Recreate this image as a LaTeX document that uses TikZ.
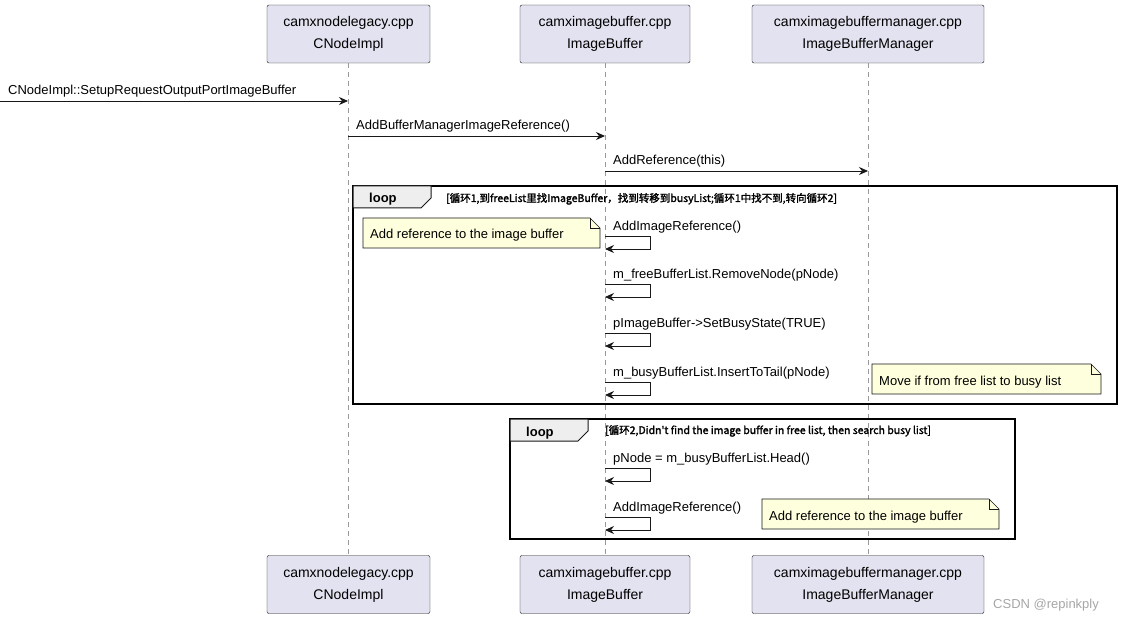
\documentclass[tikz,border=0pt]{standalone}
\usepackage{fontspec}
\setmainfont{Liberation Sans}
\newfontfamily\cjk{Noto Sans CJK SC}[AutoFakeBold=2]
\usetikzlibrary{arrows.meta}
\definecolor{pfill}{HTML}{E2E2F0}
\definecolor{pline}{HTML}{181818}
\definecolor{nfill}{HTML}{FEFFDD}
\definecolor{tabfill}{HTML}{EEEEEE}
\begin{document}
\begin{tikzpicture}[x=1pt,y=-1pt,
  part/.style={draw=pline,fill=pfill,rounded corners=2pt,minimum height=58pt,align=center,font=\fontsize{14}{22}\selectfont,inner sep=0pt},
  life/.style={draw=gray!80,dash pattern=on 5pt off 4pt,line width=0.6pt},
  msg/.style={draw=pline,line width=0.8pt,-{Stealth[length=9pt,width=8pt,inset=3pt]}},
  lbl/.style={anchor=base west,font=\fontsize{13}{15}\selectfont,inner sep=0pt},
  hdr/.style={anchor=base west,font=\cjk\bfseries\fontsize{10.5}{12}\selectfont,inner sep=0pt},
  notetxt/.style={anchor=base west,font=\fontsize{13}{15}\selectfont,inner sep=0pt}]
\useasboundingbox (0,0) rectangle (1123,620);
% participants
\node[part,minimum width=163pt] (a1) at (348.5,34) {camxnodelegacy.cpp\\CNodeImpl};
\node[part,minimum width=170pt] (b1) at (605,34) {camximagebuffer.cpp\\ImageBuffer};
\node[part,minimum width=232pt] (c1) at (868,34) {camximagebuffermanager.cpp\\ImageBufferManager};
\node[part,minimum width=163pt] (a2) at (348.5,584.5) {camxnodelegacy.cpp\\CNodeImpl};
\node[part,minimum width=170pt] (b2) at (605,584.5) {camximagebuffer.cpp\\ImageBuffer};
\node[part,minimum width=232pt] (c2) at (868,584.5) {camximagebuffermanager.cpp\\ImageBufferManager};
\draw[life] (a1.south) -- (a2.north);
\draw[life] (b1.south) -- (b2.north);
\draw[life] (c1.south) -- (c2.north);
% loop frames
\draw[line width=1.5pt] (353,186) rectangle (1117,404);
\draw[fill=tabfill,draw=pline,line width=1pt] (353,186) -- (431,186) -- (431,198) -- (421,208) -- (353,208) -- cycle;
\node[anchor=base west,font=\bfseries\fontsize{13}{15}\selectfont,inner sep=0pt] (l1) at (369,203) {loop};
\node[hdr] (h1) at (446,202) {[循环1,到freeList里找ImageBuffer，找到转移到busyList;循环1中找不到,转向循环2]};
\draw[line width=1.5pt] (510,419) rectangle (1015,539);
\draw[fill=tabfill,draw=pline,line width=1pt] (510,419) -- (588,419) -- (588,431) -- (578,441) -- (510,441) -- cycle;
\node[anchor=base west,font=\bfseries\fontsize{13}{15}\selectfont,inner sep=0pt] (l2) at (526,436) {loop};
\node[hdr] (h2) at (605,434) {[循环2,Didn't find the image buffer in free list, then search busy list]};
% messages
\coordinate (in) at (0,101);
\coordinate (ain) at (348,101);
\draw[msg] (in) -- (ain);
\node[lbl] at (8,95) {CNodeImpl::SetupRequestOutputPortImageBuffer};
\coordinate (am) at (348,136); \coordinate (bm) at (605,136);
\draw[msg] (am) -- (bm);
\node[lbl] at (356,130) {AddBufferManagerImageReference()};
\coordinate (bm2) at (605,171); \coordinate (cm2) at (868,171);
\draw[msg] (bm2) -- (cm2);
\node[lbl] at (613,165) {AddReference(this)};
% self messages
\foreach \y/\t in {236/AddImageReference(), 284/m\_freeBufferList.RemoveNode(pNode), 333/pImageBuffer->SetBusyState(TRUE), 382/m\_busyBufferList.InsertToTail(pNode), 468/pNode = m\_busyBufferList.Head(), 517/AddImageReference()}{
  \node[lbl] at (613,\y-6) {\t};
  \draw[msg] (605,\y) -- (650,\y) -- (650,\y+13) -- (605,\y+13);
}
% notes
\newcommand\mynote[5]{%
  \draw[draw=pline,fill=nfill,line width=0.6pt] (#1,#2) -- (#3-10,#2) -- (#3,#2+10) -- (#3,#4) -- (#1,#4) -- cycle;
  \draw[draw=pline,line width=0.6pt] (#3-10,#2) -- (#3-10,#2+10) -- (#3,#2+10);
  \node[notetxt] at (#1+7,#4-9) {#5};}
\mynote{363}{218}{600}{248}{Add reference to the image buffer}
\mynote{872}{364}{1101}{394}{Move if from free list to busy list}
\mynote{762}{499}{999}{529}{Add reference to the image buffer}
\node[anchor=base west,text=gray!70,font=\fontsize{13}{15}\selectfont,inner sep=0pt] at (993,608) {CSDN @repinkply};
\end{tikzpicture}
\end{document}
